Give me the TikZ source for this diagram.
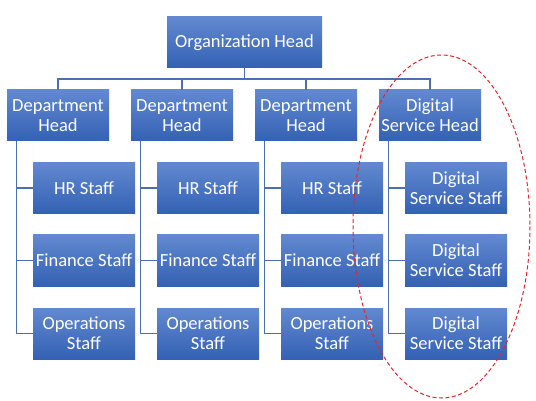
\documentclass[tikz,border=0pt]{standalone}
\usepackage{fontspec}
\setmainfont{Carlito}
\definecolor{boxtop}{HTML}{6289D0}
\definecolor{boxbot}{HTML}{3461B4}
\definecolor{linkc}{HTML}{4A6FB5}
\definecolor{ovalc}{HTML}{E8252A}
\tikzset{
  orgbox/.style={rectangle, minimum width=102pt, minimum height=51pt, inner sep=0pt,
    top color=boxtop, bottom color=boxbot, draw=none, text=white, align=center,
    font=\fontsize{18.5pt}{20pt}\selectfont},
  link/.style={draw=linkc, line width=1.2pt},
  oval/.style={draw=ovalc, dashed, dash pattern=on 4pt off 2.5pt, line width=1pt}
}
\begin{document}
\begin{tikzpicture}[x=1pt,y=-1pt]
\useasboundingbox (0,0) rectangle (536,401);
\node[orgbox, minimum width=155pt] (org) at (244.5,42.5) {Organization Head};
\node[orgbox] (d1) at (58,115.5) {Department\\Head};
\node[orgbox] (d2) at (182,115.5) {Department\\Head};
\node[orgbox] (d3) at (306,115.5) {Department\\Head};
\node[orgbox] (d4) at (430,115.5) {Digital\\Service Head};
\foreach \i/\x in {1/84,2/208,3/332}{
  \node[orgbox] (hr\i) at (\x,188) {HR Staff};
  \node[orgbox] (fin\i) at (\x,260.5) {Finance Staff};
  \node[orgbox] (ops\i) at (\x,333.5) {Operations\\Staff};
}
\node[orgbox] (ds1) at (456,188) {Digital\\Service Staff};
\node[orgbox] (ds2) at (456,260.5) {Digital\\Service Staff};
\node[orgbox] (ds3) at (456,333.5) {Digital\\Service Staff};
\coordinate (bus) at (244.5,79);
\foreach \d in {d1,d2,d3,d4}{
  \draw[link] (org.south) -- (bus) -| (\d.north);
}
\foreach \i in {1,2,3}{
  \draw[link] ([xshift=10pt]d\i.south west) |- (hr\i.west);
  \draw[link] ([xshift=10pt]d\i.south west) |- (fin\i.west);
  \draw[link] ([xshift=10pt]d\i.south west) |- (ops\i.west);
}
\foreach \i in {1,2,3}{
  \draw[link] ([xshift=10pt]d4.south west) |- (ds\i.west);
}
\node[draw=none, minimum width=0pt] (ovalc) at (441.5,226.5) {};
\draw[oval] (ovalc) ellipse [x radius=88.5, y radius=171.5];
\end{tikzpicture}
\end{document}
